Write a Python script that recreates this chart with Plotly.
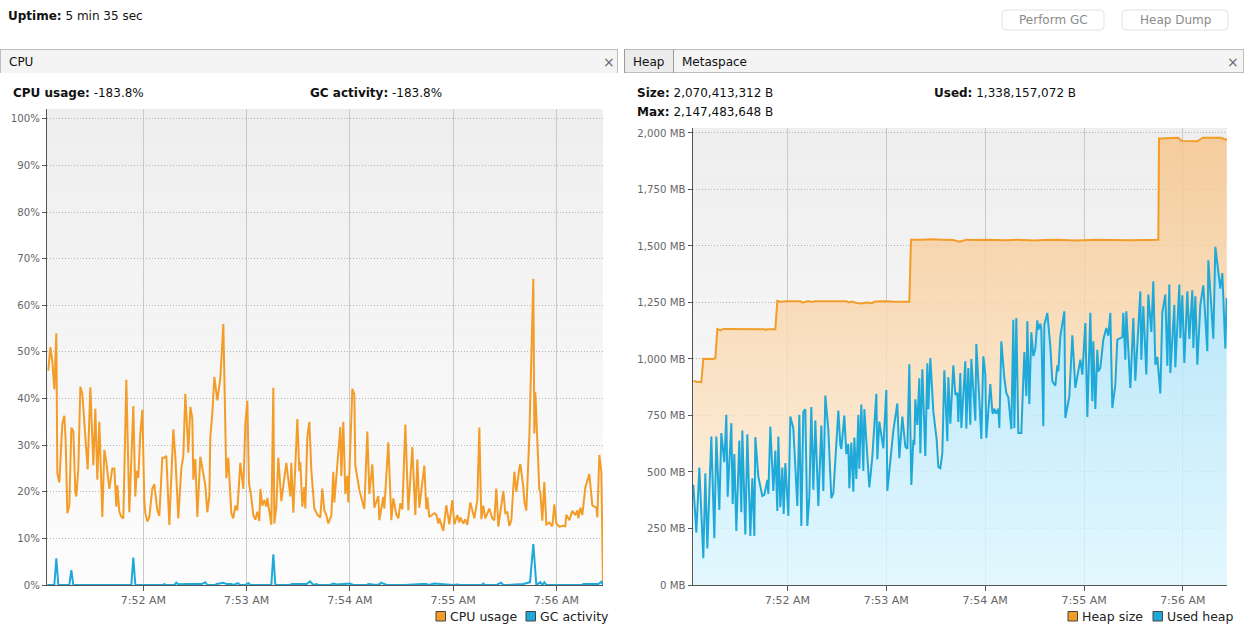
import pandas as pd
import plotly.graph_objects as go

W, H = 1245, 630
FONT = "DejaVu Sans"

# Horizontal clocks: one clock unit is a third of a pixel.
CPU_SECONDS_PER_UNIT = 0.1937
CPU_UNIT_AT_752 = 430
HEAP_SECONDS_PER_UNIT = 0.2022
HEAP_UNIT_AT_752 = 472
CPU_RANGE_UNITS = [141, 1809]
HEAP_RANGE_UNITS = [187.5, 1791]

minute_ticks = ["2017-01-01 07:52:00", "2017-01-01 07:53:00", "2017-01-01 07:54:00",
                "2017-01-01 07:55:00", "2017-01-01 07:56:00"]
minute_labels = ["7:52 AM", "7:53 AM", "7:54 AM", "7:55 AM", "7:56 AM"]
cpu_axis_ticks = [0, 10, 20, 30, 40, 50, 60, 70, 80, 90, 100]
cpu_axis_labels = ["0%", "10%", "20%", "30%", "40%", "50%", "60%", "70%", "80%", "90%", "100%"]
heap_axis_ticks = [0, 250, 500, 750, 1000, 1250, 1500, 1750, 2000]
heap_axis_labels = ["0 MB", "250 MB", "500 MB", "750 MB", "1,000 MB", "1,250 MB", "1,500 MB", "1,750 MB", "2,000 MB"]

cpu_clock = [145,151,157,163,169,172,178,187,193,197,202,208,214,220,226,229,235,241,247,253,258,263,271,280,286,292,298,307,313,319,
 328,337,343,349,352,358,364,370,379,388,400,406,410,415,421,427,433,436,442,448,457,463,472,478,487,493,499,508,520,526,
 535,544,550,556,565,571,577,580,586,592,601,607,616,622,628,631,637,643,652,661,670,679,685,694,700,706,712,721,730,736,
 742,747,753,760,766,772,778,781,787,793,799,802,808,814,820,823,829,835,844,853,859,871,874,880,892,898,901,
 907,913,916,922,928,934,943,952,961,967,973,979,985,994,1000,1003,1021,1024,1030,1036,1042,1045,1057,1063,1066,1078,1093,1102,1108,
 1117,1123,1135,1138,1150,1153,1165,1174,1180,1189,1195,1201,1207,1216,1225,1237,1246,1252,1258,1273,1279,1282,1288,1303,1309,1315,1318,1330,1339,1348,
 1357,1363,1372,1378,1381,1390,1396,1402,1411,1423,1432,1438,1444,1450,1456,1468,1477,1483,1489,1495,1510,1516,1522,1528,1534,1543,1549,1558,1561,1570,
 1573,1579,1588,1600,1603,1606,1618,1621,1627,1633,1639,1648,1657,1663,1669,1678,1690,1696,1699,1708,1717,1726,1732,1735,1741,1747,1756,1768,1777,1789,1792,1798,1804,1809]
cpu_usage = [46,51,48,42,54,24,22,34.6,36.3,31,15.4,17,33.7,33,20,19,25,42.5,41,34,29,24.8,42.4,25.7,37.8,22.6,35,14.6,29,26.4,
 20.6,25,25,16.8,21.4,15.7,14.6,14.3,44,15.6,38.4,19,24.5,23,32.5,37.6,18,15.4,13.6,14.6,20.7,21.6,16,14.8,27.3,27.3,27.7,12.9,33.4,27.5,
 14.3,25,27.7,41,28.4,38.2,35.7,22.6,27,14.6,27.5,25,21.4,15.6,19,31.8,36.8,44.6,39.6,44.3,56,22.9,27.3,15.4,14.3,17,16,26.2,20.6,34.6,
 39.5,21.8,19.3,15,14,15.7,13.7,20.6,17,18.2,16.8,18.7,15.4,12.9,42.3,13.2,16.8,27.3,18,23.2,26.2,19,26.2,15.5,35.6,24.4,26.4,
 16.8,21,16.4,31.8,35,24.6,16.4,15.1,14.5,20.7,16,15,13.2,14.9,24.3,17.7,33.9,23.4,35,19.5,23.4,17.7,42.1,40.9,25.6,20.4,16.3,32.9,19.5,
 25.9,16.6,19.1,13.9,18.9,16.4,30.6,13.9,18.6,15.1,14.3,17.5,16.2,34.4,16,29.6,15,26.9,16.6,25.6,16.2,18.8,14.6,15.4,15.1,13.2,14.3,11.6,
 17.1,13,18.2,13,15,13.4,14.5,13.2,14.1,12.9,17.7,14.3,18.2,33.8,14.1,17,14.3,16.4,14.3,13.9,20.7,12.5,20.2,15.4,15.6,12.7,13.9,24.3,20,25,
 25.9,21,17.9,16,31.8,65.7,32.5,41.4,20.4,19.9,13.8,22.1,13,13.4,12.6,17.3,13.2,12.5,12.7,12.6,15.1,13.9,15.9,15,16,14.3,16.6,15,20.9,23.8,17.1,16.6,14.5,27.9,24.3,0]

gc_clock = [142,163,169,175,208,214,220,255,261,267,285,291,313,319,345,350,394,400,406,488,493,498,523,529,535,560,605,616,622,645,650,670,680,695,700,714,720,735,745,752,814,820,826,870,875,920,928,
 930,940,950,955,990,1000,1010,1030,1050,1060,1100,1105,1130,1140,1143,1160,1215,1265,1280,1285,1303,1360,1372,1380,1445,1450,1455,1490,1503,1510,1520,1570,1585,1590,1600,1609,1615,1621,1627,1633,1639,1745,1750,1795,1804,1809]
gc_activity = [0,0,5.7,0,0,3.2,0,0,.15,0,.15,0,.15,0,.15,0,0,5.9,0,0,.2,0,0,.5,.15,.2,.2,.6,0,0,.2,.5,.2,.2,0,.4,0,0,.4,0,0,6.6,0,0,.2,.2,.7,
 .8,0,.2,0,0,.3,.1,.2,.3,0,0,.2,0,.2,.5,0,0,.2,.2,0,.3,0,.1,0,0,.3,0,0,.5,0,0,.2,.6,.6,8.8,0,.3,.6,0,.6,0,0,.2,.2,.7,0]

heap_clock = [190,199,214,220,250,256,262,272,280,404,408,412,436,442,450,470,510,517,525,535,545,555,650,656,665,680,695,710,725,735,770,790,838,843,
 880,900,940,970,988,1010,1030,1060,1100,1130,1160,1215,1240,1280,1340,1400,1500,1585,1587,1592,1644,1655,1701,1719,1773,1788,1790]
heap_size = [903,899,897,1001,1000,1003,1132,1127,1133,1132,1128,1132,1132,1257,1253,1256,1255,1250,1252,1256,1252,1256,1256,1250,1254,1248,1246,1250,1247,1254,1255,1253,1253,1528,
 1528,1530,1528,1527,1519,1528,1526,1528,1527,1525,1528,1524,1527,1528,1524,1528,1525,1528,1975,1975,1979,1965,1963,1979,1979,1970,1974]

used_clock = [190,199,208,220,226,232,244,253,259,268,274,283,289,293,304,308,313,319,328,334,337,346,352,361,367,373,376,385,397,403,
 412,415,421,430,436,442,445,451,457,461,466,475,481,490,502,508,514,520,526,532,538,544,550,556,565,574,580,586,595,604,
 610,625,631,634,643,649,655,658,664,670,673,679,685,688,694,700,703,718,727,739,742,748,760,769,772,781,790,802,808,817,
 826,832,838,844,850,853,856,862,868,871,877,886,892,895,901,910,920,925,931,937,943,952,955,961,970,976,982,985,991,994,
 1006,1009,1015,1021,1024,1036,1039,1048,1054,1060,1066,1069,1081,1087,1090,1093,1099,1105,1108,1114,1123,1129,1135,1144,1150,1153,1159,1165,1174,1183,
 1189,1192,1198,1204,1210,1216,1222,1225,1231,1234,1240,1243,1252,1261,1267,1276,1282,1285,1291,1303,1306,1318,1327,1336,1351,1357,1366,1372,1381,1387,
 1390,1396,1402,1405,1411,1420,1429,1435,1441,1447,1456,1462,1477,1480,1486,1489,1501,1510,1516,1531,1534,1540,1549,1555,1564,1570,1576,1582,1591,1597,
 1606,1612,1618,1621,1633,1636,1648,1651,1657,1663,1672,1678,1687,1690,1696,1702,1711,1720,1732,1735,1750,1756,1765,1771,1777,1786,1790]
used_heap = [443,233,520,118,494,162,657,207,657,332,672,543,753,391,716,359,579,239,639,322,683,224,667,217,472,217,654,480,394,399,
 465,403,701,416,595,328,657,344,520,314,539,306,745,694,350,753,261,767,778,261,391,787,421,728,350,706,416,838,686,384,
 406,772,620,602,750,579,624,428,630,413,652,469,753,514,799,505,778,432,568,846,556,723,605,863,416,568,683,803,561,745,
 612,602,977,443,642,620,822,708,915,583,955,571,981,778,1004,768,643,522,516,584,950,636,919,714,972,842,850,721,938,695,
 990,692,960,709,1000,727,1066,820,646,1012,931,650,889,765,758,780,758,780,695,1078,916,850,830,690,1174,695,1181,673,673,1031,
 835,1167,801,1118,1012,1046,1171,1130,1156,1130,702,1152,1204,1056,901,882,972,945,1100,1211,739,835,1105,872,997,931,1159,743,1204,813,
 1078,779,1041,945,960,1086,1137,1103,1204,783,886,1086,1097,1204,997,1211,872,1181,904,1299,997,1233,931,1285,1120,1344,975,1009,847,1208,
 1285,970,1329,938,1240,963,1329,1093,1282,982,1299,1089,1304,1049,1277,975,1240,1326,1034,1437,1090,1496,1366,1311,1380,1046,1270]

assert len(cpu_clock) == len(cpu_usage), (len(cpu_clock), len(cpu_usage))
assert len(gc_clock) == len(gc_activity), (len(gc_clock), len(gc_activity))
assert len(heap_clock) == len(heap_size), (len(heap_clock), len(heap_size))
assert len(used_clock) == len(used_heap), (len(used_clock), len(used_heap))

T752 = pd.Timestamp("2017-01-01 07:52:00")

def cpu_time(units):
    return [T752 + pd.Timedelta(seconds=(u - CPU_UNIT_AT_752) * CPU_SECONDS_PER_UNIT) for u in units]

def heap_time(units):
    return [T752 + pd.Timedelta(seconds=(u - HEAP_UNIT_AT_752) * HEAP_SECONDS_PER_UNIT) for u in units]

ORANGE = "#f39c27"
BLUE = "#1fa9d9"
LINE_W = 2

fig = go.Figure()
line_kw = dict(mode="lines", hoverinfo="skip", showlegend=False)
fig.add_trace(go.Scatter(x=cpu_time(cpu_clock), y=cpu_usage, name="CPU usage", line=dict(color=ORANGE, width=LINE_W), xaxis="x", yaxis="y", **line_kw))
fig.add_trace(go.Scatter(x=cpu_time(gc_clock), y=gc_activity, name="GC activity", line=dict(color=BLUE, width=LINE_W), xaxis="x", yaxis="y", **line_kw))
fig.add_trace(go.Scatter(x=heap_time(used_clock), y=used_heap, name="Used heap", line=dict(color=BLUE, width=LINE_W), xaxis="x2", yaxis="y2",
    fill="tozeroy",
    fillgradient=dict(type="vertical", start=0, stop=1500,
                      colorscale=[[0, "rgba(221,247,255,0.8)"], [1, "rgba(165,225,250,0.8)"]]),
    **line_kw))
fig.add_trace(go.Scatter(x=heap_time(heap_clock), y=heap_size, name="Heap size", line=dict(color=ORANGE, width=LINE_W), xaxis="x2", yaxis="y2",
    fill="tonexty",
    fillgradient=dict(type="vertical", start=0, stop=2000,
                      colorscale=[[0, "rgba(255,245,230,0.8)"], [1, "rgba(246,195,135,0.8)"]]),
    **line_kw))

px = lambda v: v / W
py = lambda v: 1 - v / H

shapes = []
# plot backgrounds: light vertical gradient, drawn below the grid
def background(x0, x1, y0, y1, strips=40):
    for i in range(strips):
        t = i / (strips - 1)
        c = round(238 + (252 - 238) * t)
        shapes.append(dict(type="rect", xref="paper", yref="paper", layer="below",
                           x0=px(x0), x1=px(x1), y0=py(y0 + (y1 - y0) * i / strips), y1=py(y0 + (y1 - y0) * (i + 1) / strips),
                           fillcolor=f"rgb({c},{c},{c})", line=dict(width=0)))
background(47, 603, 109, 585)
background(692.5, 1227, 128, 585)

def hline(x0, x1, y, color, width=1):
    shapes.append(dict(type="line", xref="paper", yref="paper", x0=px(x0), x1=px(x1), y0=py(y), y1=py(y),
                       line=dict(color=color, width=width)))

def vline(x, y0, y1, color, width=1):
    shapes.append(dict(type="line", xref="paper", yref="paper", x0=px(x), x1=px(x), y0=py(y0), y1=py(y1),
                       line=dict(color=color, width=width)))

def round_rect(x0, y0, x1, y1, r=4, line="#e2e2e2"):
    X0, X1, Y0, Y1 = px(x0), px(x1), py(y0), py(y1)
    rx, ry = r / W, r / H
    path = (f"M {X0+rx} {Y0} L {X1-rx} {Y0} Q {X1} {Y0} {X1} {Y0-ry} L {X1} {Y1+ry} Q {X1} {Y1} {X1-rx} {Y1} "
            f"L {X0+rx} {Y1} Q {X0} {Y1} {X0} {Y1+ry} L {X0} {Y0-ry} Q {X0} {Y0} {X0+rx} {Y0} Z")
    shapes.append(dict(type="path", xref="paper", yref="paper", path=path, fillcolor="white", line=dict(color=line, width=1)))

# panel tab strips
shapes.append(dict(type="rect", xref="paper", yref="paper", x0=0, x1=px(618), y0=py(49.5), y1=py(73),
                   fillcolor="#f4f4f4", line=dict(width=0)))
hline(0, 618, 49.5, "#bdbdbd")
vline(0.5, 49.5, 73, "#bdbdbd")
vline(617.5, 49.5, 73, "#bdbdbd")
shapes.append(dict(type="rect", xref="paper", yref="paper", x0=px(624), x1=px(1244), y0=py(49.5), y1=py(73),
                   fillcolor="#f4f4f4", line=dict(width=0)))
shapes.append(dict(type="rect", xref="paper", yref="paper", x0=px(624), x1=px(673.5), y0=py(49.5), y1=py(73),
                   fillcolor="#ececec", line=dict(width=0)))
hline(624, 1244, 49.5, "#bdbdbd")
hline(624, 1244, 72.5, "#bdbdbd")
vline(624.5, 49.5, 73, "#9a9a9a")
vline(673.5, 49.5, 73, "#9a9a9a")
vline(1243.5, 49.5, 73, "#bdbdbd")
round_rect(1002, 10, 1104, 30)
round_rect(1122, 10, 1228, 30)

def text(x, y, s, size=12, color="#111111", xanchor="left"):
    return dict(xref="paper", yref="paper", x=px(x), y=py(y), text=s, showarrow=False, xanchor=xanchor, yanchor="middle",
                font=dict(family=FONT, size=size, color=color), align="left", borderpad=0, borderwidth=0)

annotations = [
    text(8, 15.5, "<b>Uptime:</b> 5 min 35 sec"),
    text(9, 62, "CPU"),
    text(633, 62, "Heap"),
    text(682, 62, "Metaspace"),
    text(609, 62, "×", size=14, color="#666666", xanchor="center"),
    text(1233, 62, "×", size=14, color="#666666", xanchor="center"),
    text(13, 92.5, "<b>CPU usage:</b> -183.8%"),
    text(310, 92.5, "<b>GC activity:</b> -183.8%"),
    text(637, 92.5, "<b>Size:</b> 2,070,413,312 B"),
    text(934, 92.5, "<b>Used:</b> 1,338,157,072 B"),
    text(637, 111.5, "<b>Max:</b> 2,147,483,648 B"),
    text(1053, 20, "Perform GC", color="#8a8a8a", xanchor="center"),
    text(1175, 20, "Heap Dump", color="#8a8a8a", xanchor="center"),
]

# legends: swatch and label pairs, closely spaced as in the reference
def legend_item(x, label, color):
    shapes.append(dict(type="rect", xref="paper", yref="paper", x0=px(x), x1=px(x + 9.5), y0=py(611.5), y1=py(621),
                       fillcolor=color, line=dict(color="#444444", width=1)))
    annotations.append(text(x + 14, 616.5, label, size=12.5, color="#222222"))

legend_item(436, "CPU usage", ORANGE)
legend_item(526, "GC activity", BLUE)
legend_item(1068, "Heap size", ORANGE)
legend_item(1153, "Used heap", BLUE)

xaxis_kw = dict(type="date", tickvals=minute_ticks, ticktext=minute_labels, ticks="outside", ticklen=5, tickcolor="#555555",
                showline=True, linecolor="#555555", linewidth=1, showgrid=True, gridcolor="#c9c9c9", gridwidth=1,
                tickfont=dict(family=FONT, size=11, color="#666666"), zeroline=False, fixedrange=True, automargin=False)
yaxis_kw = dict(ticks="outside", ticklen=4, tickcolor="#555555", showline=True, linecolor="#555555", linewidth=1,
                showgrid=True, gridcolor="#b5b5b5", griddash="1px,2px", gridwidth=1,
                tickfont=dict(family=FONT, size=10.2, color="#666666"), zeroline=False, fixedrange=True, automargin=False)

fig.update_layout(
    width=W, height=H, autosize=False,
    margin=dict(l=0, r=0, t=0, b=0, pad=0, autoexpand=False),
    paper_bgcolor="white", plot_bgcolor="rgba(0,0,0,0)",
    font=dict(family=FONT),
    shapes=shapes, annotations=annotations,
    hovermode=False, showlegend=False,
    xaxis=dict(domain=[px(47), px(603)], anchor="y", range=cpu_time(CPU_RANGE_UNITS), **xaxis_kw),
    yaxis=dict(domain=[py(585), py(109)], anchor="x", range=[0, 102.1], tickvals=cpu_axis_ticks, ticktext=cpu_axis_labels, **yaxis_kw),
    xaxis2=dict(domain=[px(692.5), px(1227)], anchor="y2", range=heap_time(HEAP_RANGE_UNITS), **xaxis_kw),
    yaxis2=dict(domain=[py(585), py(128)], anchor="x2", range=[0, 2022], tickvals=heap_axis_ticks, ticktext=heap_axis_labels, **yaxis_kw),
)

fig.write_html("out.html", config=dict(displayModeBar=False, responsive=False), default_width=W, default_height=H,
               post_script="document.body.style.margin='0';document.documentElement.style.overflow='hidden';")
